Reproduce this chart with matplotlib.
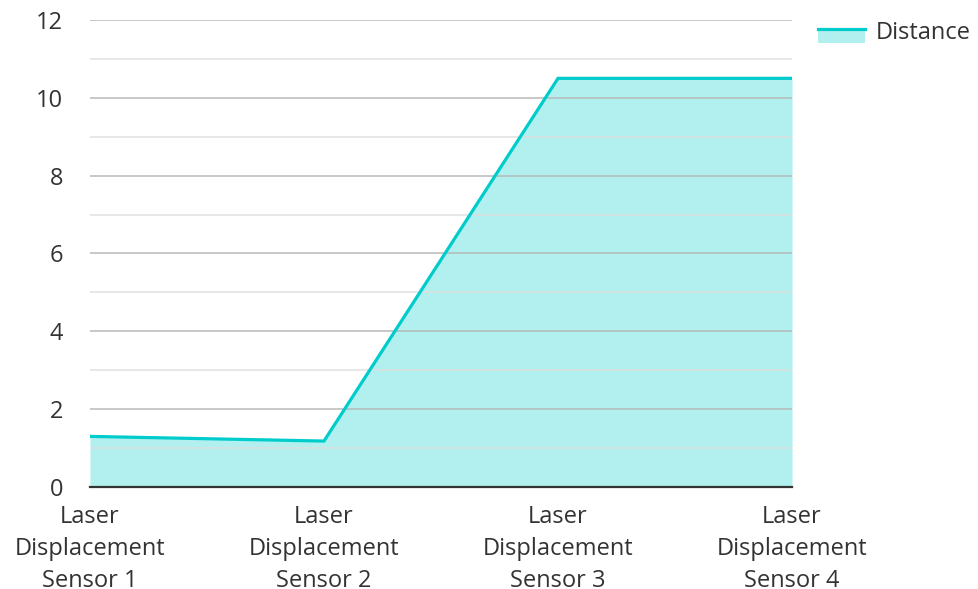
import matplotlib.pyplot as plt
from matplotlib.legend_handler import HandlerBase
from matplotlib.patches import Rectangle
from matplotlib.lines import Line2D
from matplotlib.ticker import MultipleLocator

plt.rcParams['font.family'] = ['Open Sans', 'DejaVu Sans']

sensors = ["Laser\nDisplacement\nSensor 1", "Laser\nDisplacement\nSensor 2",
           "Laser\nDisplacement\nSensor 3", "Laser\nDisplacement\nSensor 4"]
distance = [1.3, 1.18, 10.5, 10.5]

LINE = "#00CCCC"
FILL = "#B2EFEF"
TEXT = "#333333"
FS = 17


class AreaHandler(HandlerBase):
    # filled box with the stroke along its top edge, sitting a bit low
    def create_artists(self, legend, orig_handle, xdescent, ydescent,
                       width, height, fontsize, trans):
        mid = height / 2 - ydescent
        top, bottom = mid + 1.5, mid - 8.5
        box = Rectangle((-xdescent, bottom), width, top - bottom,
                        facecolor=FILL, edgecolor="none", transform=trans)
        edge = Line2D([-xdescent, width - xdescent], [top, top],
                      color=LINE, lw=2.3, transform=trans)
        return [box, edge]


fig = plt.figure(figsize=(9.79, 5.89), dpi=100)
ax = fig.add_axes([0.0919, 0.1732, 0.7171, 0.7929])

x = range(len(sensors))
ax.fill_between(x, distance, 0, color=FILL, lw=0, zorder=1)
ax.plot(x, distance, color=LINE, lw=2.3, zorder=3, solid_joinstyle="miter")

ax.set_xlim(0, len(sensors) - 1)
ax.set_ylim(0, 12)
ax.yaxis.set_major_locator(MultipleLocator(2))
ax.yaxis.set_minor_locator(MultipleLocator(1))
ax.set_axisbelow(False)
ax.grid(True, which="major", axis="y", color="#b4b4b4", lw=1.2, alpha=0.85)
ax.grid(True, which="minor", axis="y", color="#dedede", lw=1.2, alpha=0.85)

for s in ["top", "right", "left"]:
    ax.spines[s].set_visible(False)
ax.spines["bottom"].set_color("#333333")
ax.spines["bottom"].set_linewidth(1.6)
ax.spines["bottom"].set_zorder(4)

ax.set_xticks(list(x))
ax.set_xticklabels(sensors, fontsize=FS, color=TEXT, linespacing=1.44)
ax.tick_params(axis="x", length=0, pad=13)
ax.tick_params(axis="y", which="both", length=0, pad=19.5, labelsize=FS,
               labelcolor=TEXT)

ax.legend(handles=[Rectangle((0, 0), 1, 1)], labels=["Distance"],
          handler_map={Rectangle: AreaHandler()},
          loc="upper left", bbox_to_anchor=(0.8355, 0.964),
          bbox_transform=fig.transFigure, frameon=False,
          fontsize=FS, labelcolor=TEXT, handlelength=2.0,
          handleheight=0.7, handletextpad=0.45, borderaxespad=0,
          borderpad=0)

fig.savefig("out.png", dpi=100)
